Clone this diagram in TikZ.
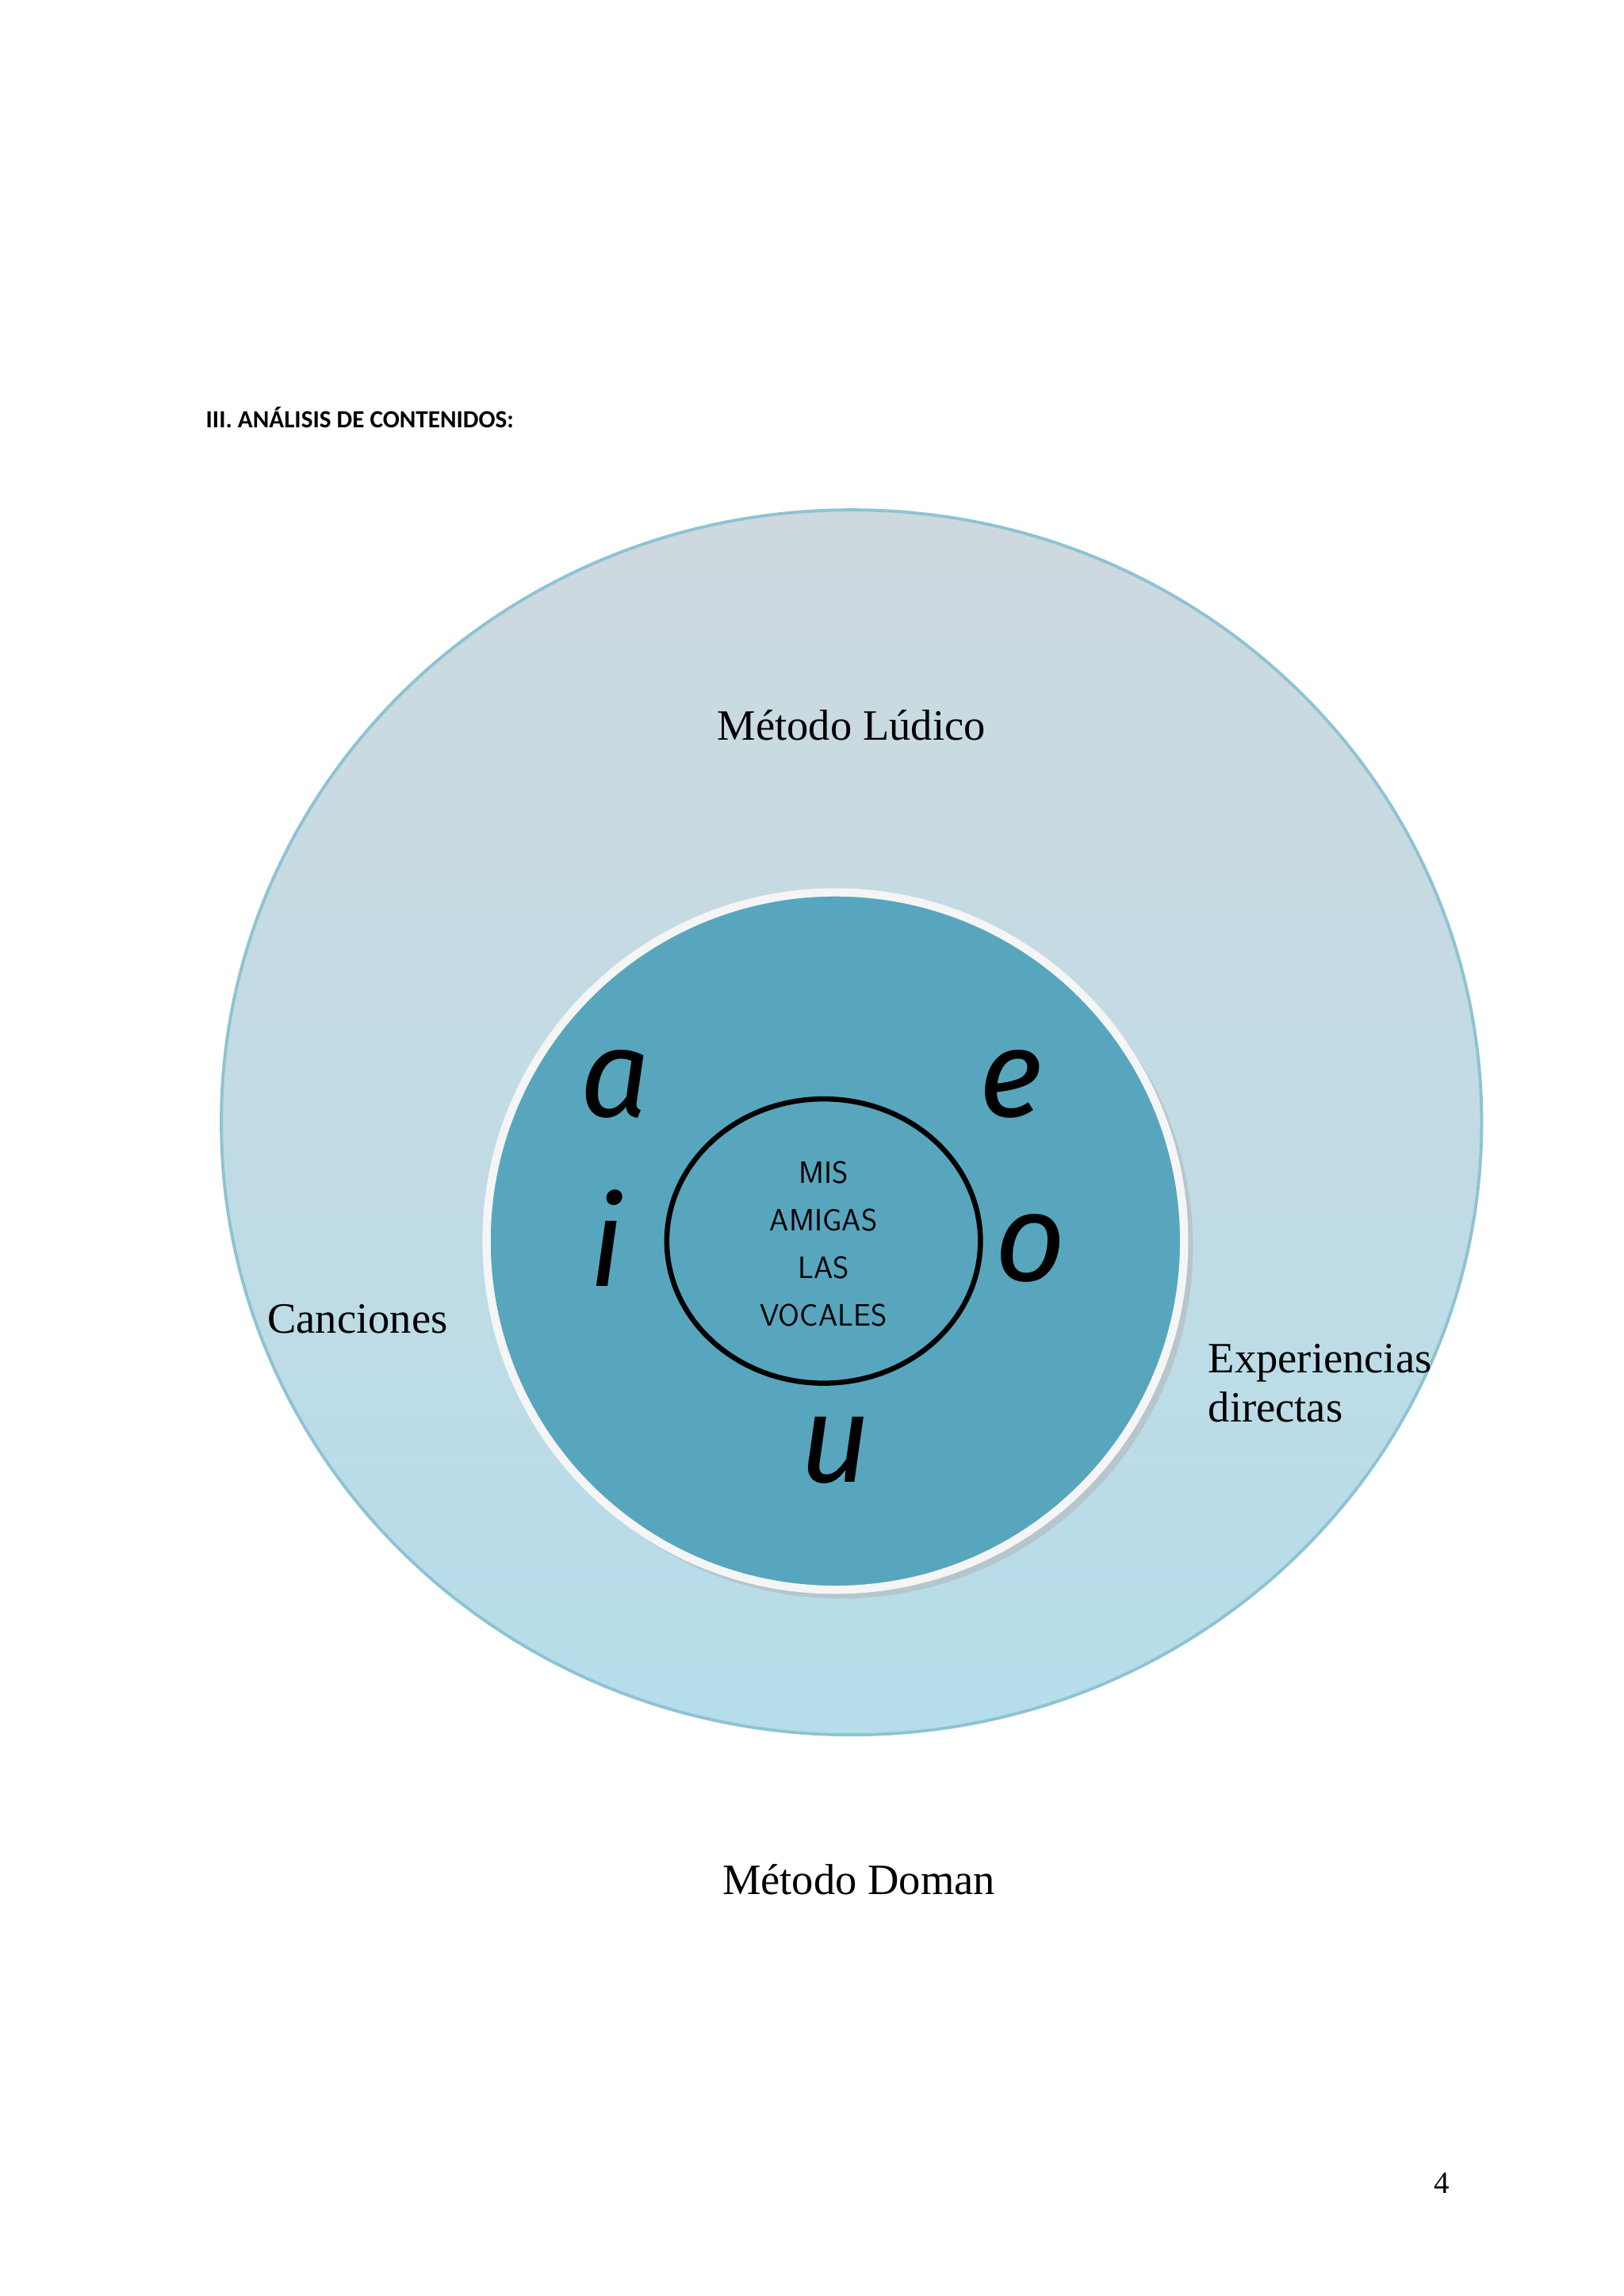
\documentclass[tikz,border=0pt]{standalone}
\usepackage{fontspec}
\setmainfont{Liberation Serif}
\newfontfamily\calfnt{Carlito}
\newfontfamily\handfnt{Fira Sans}
\definecolor{otop}{HTML}{CED9DF}
\definecolor{obot}{HTML}{B5DDEA}
\definecolor{inn}{HTML}{57A6BD}
\definecolor{edge}{HTML}{8EC3D3}
\begin{document}
\begin{tikzpicture}[x=0.05cm,y=-0.05cm,
  lab/.style={font=\fontsize{42}{48}\selectfont,align=left},
  vow/.style={font=\handfnt\itshape\fontsize{120}{120}\selectfont}]
\useasboundingbox[fill=white] (0,0) rectangle (1108,1567);
\node[anchor=west,font=\calfnt\bfseries\fontsize{24}{28}\selectfont] (title) at (138,285) {III. ANÁLISIS DE CONTENIDOS:};
\path[top color=otop,bottom color=obot,draw=edge,line width=3pt] (581,766) ellipse [x radius=430,y radius=418];
\fill[gray!60,opacity=0.5] (574,851) circle [radius=240];
\path[fill=inn,draw=white!92!gray,line width=8pt] (570,847) circle [radius=238];
\draw[black,line width=5pt] (562,847) ellipse [x radius=107,y radius=97];
\node[font=\fontsize{30}{46}\selectfont\sffamily,align=center] (mis) at (562,849) {MIS\\AMIGAS\\LAS\\VOCALES};
\node[vow] (a) at (420,740) {a};
\node[vow] (e) at (690,740) {e};
\node[vow] (i) at (414,845) {i};
\node[vow] (o) at (703,852) {o};
\node[vow] (u) at (570,990) {u};
\node[lab] (ml) at (581,495) {Método Lúdico};
\node[lab] (can) at (244,900) {Canciones};
\node[lab,anchor=west] (exp) at (822,944) {Experiencias\\directas};
\node[lab] (md) at (586,1283) {Método Doman};
\node[font=\fontsize{30}{36}\selectfont] (pg) at (984,1490) {4};
\end{tikzpicture}
\end{document}
